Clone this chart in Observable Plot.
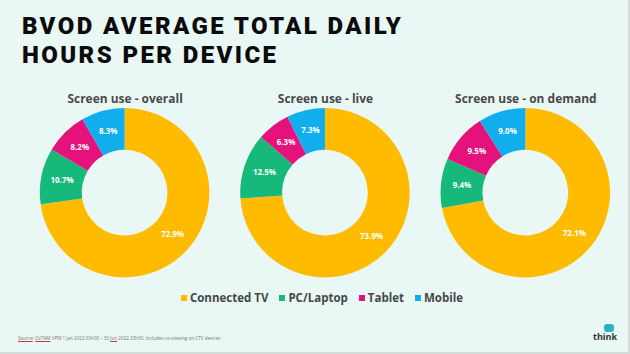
<!DOCTYPE html>
<html>
<head>
<meta charset="utf-8">
<script src="https://cdn.jsdelivr.net/npm/d3@7"></script>
<script src="https://cdn.jsdelivr.net/npm/@observablehq/plot@0.6"></script>
<style>
  html, body { margin: 0; padding: 0; }
  body { width: 630px; height: 354px; overflow: hidden; background: #e9f8f4; font-family: "Open Sans", sans-serif; }
  #wrap { position: relative; width: 628px; height: 352px; border-right: 2px solid #d4dcd9; border-bottom: 2px solid #d4dcd9; background: #e9f8f4; }
  .tl { position: absolute; left: 22px; font-family: Roboto, sans-serif; font-weight: 900; font-size: 24px; line-height: 28px; color: #0b0b0b; letter-spacing: 2.4px; white-space: nowrap; }
  #t1 { top: 12px; }
  #t2 { top: 41px; }
  #chart { position: absolute; left: 0; top: 85px; }
  #legend { position: absolute; left: 0; width: 644px; top: 290px; display: flex; justify-content: center; gap: 11px; font-weight: 700; font-size: 11.5px; color: #474747; }
  #legend span.item { display: flex; align-items: center; }
  #legend span.sw { width: 6px; height: 6px; margin-right: 3px; display: inline-block; }
  #footer { position: absolute; left: 18px; top: 335px; font-size: 4.6px; color: #777; white-space: nowrap; }
  #footer u { text-decoration-color: #d33; }
  #logo { position: absolute; left: 593px; top: 330px; font-size: 9px; font-weight: 700; color: #333; }
  #logo .bub { position: absolute; left: 11px; top: -6px; width: 10px; height: 8px; border-radius: 3px; background: #2bb3c0; }
</style>
</head>
<body>
<div id="wrap">
  <div class="tl" id="t1">BVOD AVERAGE TOTAL DAILY</div>
  <div class="tl" id="t2">HOURS PER DEVICE</div>
  <div id="chart"></div>
  <div id="legend"></div>
  <div id="footer"><u>Source</u>: <u>OzTAM</u> VPM 1 Jan 2022 00h00 – 30 <u>Jun</u> 2022 23h30. Includes co-viewing on CTV devices</div>
  <div id="logo">think<span class="bub"></span></div>
</div>
<script>
const panels = ["overall", "live", "on demand"];
const subtitles = ["Screen use - overall", "Screen use - live", "Screen use - on demand"];
const devices = ["Connected TV", "PC/Laptop", "Tablet", "Mobile"];
const overall = [72.9, 10.7, 8.2, 8.3];
const live = [73.9, 12.5, 6.3, 7.3];
const onDemand = [72.1, 9.4, 9.5, 9.0];
const colors = ["#ffbb00", "#17b97a", "#e5127c", "#11aeee"];

const series = [overall, live, onDemand];
const rows = [];
panels.forEach((p, i) => devices.forEach((d, j) => rows.push({panel: p, device: d, value: series[i][j]})));

const H = 210;
const CY = 108, R_OUT = 85, R_IN = 43;

function donuts(index, scales) {
  const g = d3.create("svg:g");
  const pie = d3.pie().sort(null).value(d => d.value);
  const arc = d3.arc().innerRadius(R_IN).outerRadius(R_OUT);
  const labelArc = d3.arc().innerRadius(64).outerRadius(64);
  for (const p of panels) {
    const data = rows.filter(r => r.panel === p);
    const cx = scales.x(p);
    const gg = g.append("g").attr("transform", `translate(${cx},${CY})`);
    const arcs = pie(data);
    gg.selectAll("path").data(arcs).join("path")
      .attr("d", arc)
      .attr("fill", d => scales.color(d.data.device));
    gg.selectAll("text").data(arcs).join("text")
      .attr("transform", d => `translate(${labelArc.centroid(d)})`)
      .attr("text-anchor", "middle")
      .attr("dy", "0.35em")
      .attr("fill", "white")
      .attr("font-weight", 700)
      .attr("font-size", 8)
      .text(d => d.data.value.toFixed(1) + "%");
  }
  return g.node();
}

const chart = Plot.plot({
  width: 630,
  height: H,
  margin: 0,
  style: {background: "transparent", fontFamily: "'Open Sans', sans-serif", overflow: "visible"},
  x: {type: "point", domain: panels, range: [125, 527], padding: 0, axis: null},
  color: {domain: devices, range: colors},
  marks: [
    Plot.text(panels, {x: d => d, text: (d, i) => subtitles[i], frameAnchor: "top", dy: 9, fontSize: 12, fontWeight: 700, fill: "#4a4a4a"}),
    donuts
  ]
});
document.getElementById("chart").appendChild(chart);

const leg = document.getElementById("legend");
devices.forEach((d, i) => {
  const it = document.createElement("span");
  it.className = "item";
  it.innerHTML = `<span class="sw" style="background:${colors[i]}"></span>${d}`;
  leg.appendChild(it);
});
</script>
</body>
</html>
